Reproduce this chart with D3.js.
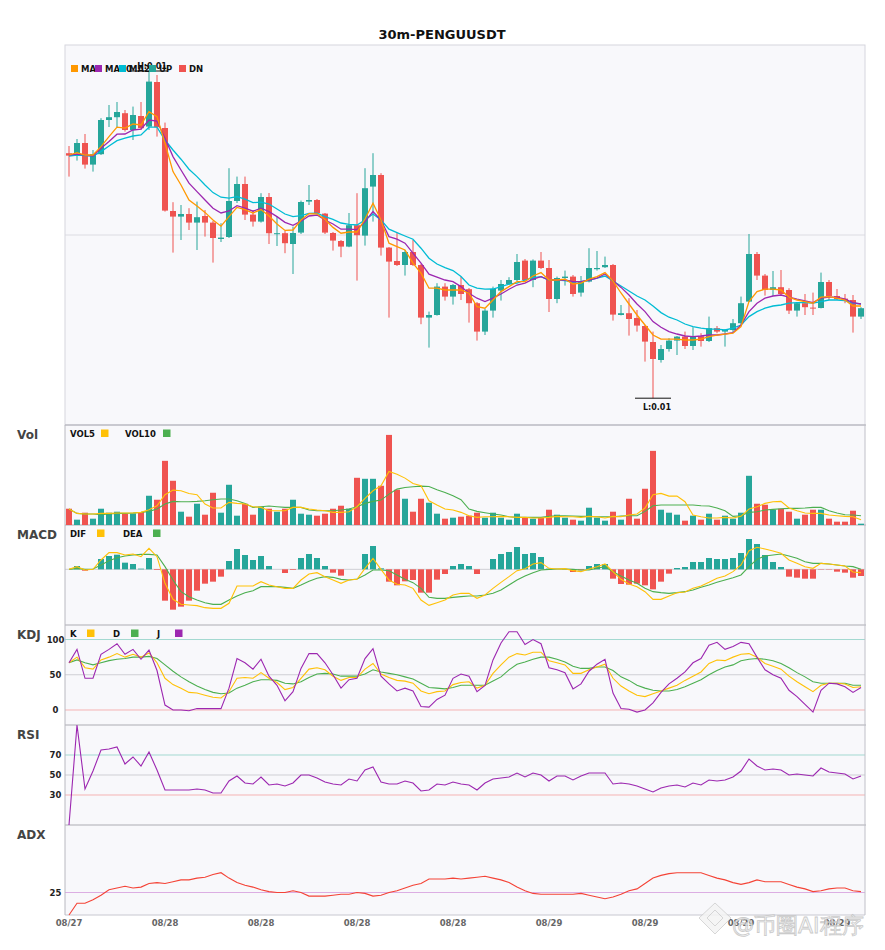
<!DOCTYPE html>
<html>
<head>
<meta charset="utf-8">
<script src="https://cdn.jsdelivr.net/npm/d3@7/dist/d3.min.js"></script>
<style>
body{margin:0;background:#fff}
svg text{font-family:"DejaVu Sans",sans-serif}
</style>
</head>
<body>
<div class="chart"></div>
<script>
// x axis
var dateTicks = [0,12,24,36,48,60,72,84,96]
var dateLabels = ["08/27","08/28","08/28","08/28","08/28","08/29","08/29","08/29","08/29"]

// 30m candles
var open = [0.011409,0.011409,0.011460,0.011352,0.011404,0.011575,0.011589,0.011609,0.011525,0.011595,
0.011542,0.011765,0.011535,0.011120,0.011092,0.011105,0.011062,0.011095,0.011062,0.010980,
0.010990,0.011170,0.011255,0.011102,0.011067,0.011190,0.011004,0.011009,0.010955,0.011012,
0.011167,0.011175,0.011107,0.011010,0.010970,0.010942,0.011049,0.010997,0.011242,0.011300,
0.010937,0.010870,0.010850,0.010915,0.010850,0.010587,0.010600,0.010742,0.010692,0.010750,
0.010729,0.010659,0.010517,0.010622,0.010722,0.010755,0.010775,0.010872,0.010775,0.010872,
0.010835,0.010680,0.010785,0.010792,0.010712,0.010767,0.010829,0.010839,0.010850,0.010600,
0.010609,0.010585,0.010545,0.010465,0.010375,0.010430,0.010472,0.010492,0.010445,0.010494,
0.010470,0.010534,0.010517,0.010525,0.010559,0.010667,0.010905,0.010797,0.010725,0.010739,
0.010725,0.010622,0.010659,0.010637,0.010635,0.010765,0.010695,0.010682,0.010675,0.010592]
var high = [0.011445,0.011480,0.011505,0.011425,0.011584,0.011650,0.011665,0.011625,0.011642,0.011665,
0.011820,0.011800,0.011562,0.011164,0.011150,0.011134,0.011167,0.011125,0.011070,0.011059,
0.011334,0.011292,0.011292,0.011125,0.011209,0.011210,0.011092,0.011020,0.011042,0.011172,
0.011250,0.011180,0.011110,0.011015,0.010975,0.011110,0.011209,0.011334,0.011409,0.011309,
0.010940,0.011012,0.010925,0.010975,0.010855,0.010617,0.010759,0.010759,0.010755,0.010792,
0.010735,0.010665,0.010630,0.010742,0.010775,0.010789,0.010905,0.010880,0.010878,0.010915,
0.010875,0.010792,0.010822,0.010800,0.010795,0.010934,0.010920,0.010892,0.010855,0.010650,
0.010684,0.010625,0.010550,0.010517,0.010450,0.010484,0.010495,0.010517,0.010539,0.010509,
0.010592,0.010545,0.010530,0.010580,0.010692,0.011005,0.010915,0.010805,0.010820,0.010825,
0.010734,0.010665,0.010705,0.010712,0.010812,0.010775,0.010730,0.010705,0.010700,0.010639]
var low = [0.011292,0.011372,0.011332,0.011317,0.011400,0.011540,0.011540,0.011517,0.011475,0.011525,
0.011525,0.011492,0.011117,0.010912,0.010975,0.011025,0.010925,0.010992,0.010862,0.010965,
0.010985,0.011160,0.011075,0.011042,0.011062,0.010955,0.010945,0.010909,0.010805,0.011005,
0.011150,0.011105,0.011005,0.010922,0.010889,0.010939,0.010772,0.010947,0.011067,0.010897,
0.010587,0.010845,0.010797,0.010845,0.010554,0.010437,0.010597,0.010672,0.010652,0.010675,
0.010562,0.010472,0.010500,0.010587,0.010672,0.010750,0.010770,0.010770,0.010739,0.010830,
0.010615,0.010659,0.010747,0.010692,0.010692,0.010763,0.010822,0.010835,0.010572,0.010598,
0.010497,0.010517,0.010367,0.010184,0.010362,0.010417,0.010400,0.010430,0.010425,0.010442,
0.010465,0.010509,0.010442,0.010512,0.010555,0.010665,0.010775,0.010697,0.010695,0.010695,
0.010605,0.010592,0.010600,0.010600,0.010633,0.010675,0.010675,0.010659,0.010512,0.010580]
var close = [0.011397,0.011460,0.011352,0.011404,0.011575,0.011589,0.011615,0.011525,0.011600,0.011534,
0.011767,0.011539,0.011122,0.011092,0.011105,0.011062,0.011089,0.011062,0.010985,0.010987,
0.011170,0.011255,0.011102,0.011067,0.011190,0.011009,0.011009,0.010959,0.011010,0.011165,
0.011175,0.011109,0.011012,0.010972,0.010942,0.011049,0.010999,0.011234,0.011300,0.010937,
0.010867,0.010850,0.010915,0.010850,0.010587,0.010600,0.010742,0.010692,0.010750,0.010705,
0.010659,0.010517,0.010622,0.010730,0.010755,0.010775,0.010865,0.010775,0.010872,0.010835,
0.010680,0.010785,0.010792,0.010705,0.010767,0.010835,0.010835,0.010850,0.010602,0.010609,
0.010580,0.010547,0.010467,0.010380,0.010430,0.010472,0.010492,0.010445,0.010492,0.010470,
0.010534,0.010517,0.010525,0.010559,0.010659,0.010905,0.010797,0.010725,0.010739,0.010705,
0.010622,0.010659,0.010639,0.010632,0.010765,0.010695,0.010679,0.010672,0.010592,0.010634]

var ma5 = [0.011400,0.011412,0.011400,0.011400,0.011442,0.011492,0.011539,0.011534,0.011555,0.011550,
0.011617,0.011592,0.011459,0.011317,0.011250,0.011175,0.011145,0.011113,0.011075,0.011044,
0.011092,0.011138,0.011127,0.011110,0.011127,0.011095,0.011055,0.011023,0.011025,0.011075,
0.011107,0.011106,0.011077,0.011038,0.011009,0.011015,0.011015,0.011080,0.011159,0.011075,
0.010959,0.010942,0.010925,0.010859,0.010809,0.010734,0.010734,0.010725,0.010725,0.010725,
0.010709,0.010642,0.010634,0.010675,0.010717,0.010742,0.010767,0.010767,0.010795,0.010812,
0.010775,0.010775,0.010779,0.010755,0.010759,0.010779,0.010792,0.010812,0.010770,0.010710,
0.010655,0.010600,0.010550,0.010500,0.010479,0.010479,0.010479,0.010475,0.010475,0.010479,
0.010492,0.010499,0.010504,0.010509,0.010542,0.010667,0.010717,0.010729,0.010729,0.010725,
0.010689,0.010675,0.010667,0.010659,0.010689,0.010692,0.010684,0.010675,0.010645,0.010645]
var ma10 = [0.011400,0.011404,0.011400,0.011395,0.011434,0.011467,0.011504,0.011505,0.011525,0.011529,
0.011575,0.011570,0.011484,0.011392,0.011325,0.011259,0.011217,0.011175,0.011134,0.011110,
0.011120,0.011147,0.011134,0.011119,0.011134,0.011117,0.011092,0.011063,0.011048,0.011069,
0.011095,0.011100,0.011075,0.011055,0.011029,0.011029,0.011027,0.011067,0.011117,0.011075,
0.010992,0.010979,0.010959,0.010909,0.010859,0.010804,0.010789,0.010775,0.010767,0.010742,
0.010709,0.010684,0.010667,0.010684,0.010705,0.010729,0.010750,0.010759,0.010779,0.010792,
0.010775,0.010775,0.010775,0.010767,0.010767,0.010775,0.010784,0.010805,0.010771,0.010738,
0.010700,0.010655,0.010617,0.010567,0.010539,0.010517,0.010505,0.010495,0.010492,0.010495,
0.010500,0.010500,0.010505,0.010512,0.010550,0.010617,0.010659,0.010684,0.010695,0.010700,
0.010689,0.010679,0.010670,0.010662,0.010684,0.010689,0.010689,0.010679,0.010662,0.010655]
var ma20 = [0.011395,0.011400,0.011397,0.011395,0.011417,0.011445,0.011472,0.011484,0.011495,0.011500,
0.011539,0.011539,0.011475,0.011425,0.011379,0.011329,0.011292,0.011250,0.011212,0.011189,
0.011184,0.011192,0.011179,0.011162,0.011164,0.011155,0.011130,0.011105,0.011092,0.011097,
0.011108,0.011109,0.011092,0.011078,0.011060,0.011053,0.011050,0.011075,0.011105,0.011075,
0.011029,0.011012,0.010995,0.010979,0.010934,0.010884,0.010855,0.010837,0.010822,0.010792,
0.010750,0.010734,0.010729,0.010730,0.010742,0.010754,0.010759,0.010775,0.010787,0.010792,
0.010775,0.010775,0.010772,0.010765,0.010767,0.010775,0.010784,0.010795,0.010770,0.010745,
0.010720,0.010695,0.010675,0.010645,0.010612,0.010589,0.010575,0.010555,0.010542,0.010534,
0.010529,0.010529,0.010525,0.010534,0.010550,0.010592,0.010617,0.010634,0.010645,0.010650,
0.010659,0.010662,0.010662,0.010659,0.010667,0.010675,0.010675,0.010672,0.010659,0.010655]

// volume (k)
var volume = [49,16,37,19,49,37,40,34,35,39, 88,76,193,133,40,25,64,31,97,37,
121,28,64,31,55,49,40,49,76,34, 31,28,34,49,58,49,142,139,139,118,
271,106,79,40,79,67,34,19,22,25, 28,37,22,37,22,16,34,22,19,22,
46,31,22,16,13,52,22,13,40,16, 79,19,109,223,46,37,31,13,28,16,
34,16,28,19,37,148,64,61,46,49, 40,19,31,46,46,19,10,10,43,4]
var vol5 = [48,35,33,33,35,35,36,36,36,38, 46,58,91,105,103,95,91,63,51,51,
68,65,63,55,53,43,43,43,53,53, 48,45,43,38,38,40,55,80,103,118,
161,153,141,125,118,73,60,48,45,38, 28,23,25,25,26,25,23,23,21,21,
23,26,25,25,23,26,25,21,26,25, 30,33,51,91,95,87,87,70,30,25,
21,21,23,21,26,48,55,65,70,71, 51,43,36,35,35,30,28,26,25,16]
var vol10 = [48,35,33,33,31,33,35,35,36,38, 41,48,63,71,70,70,71,73,76,78,
78,73,65,53,55,57,55,53,53,53, 45,43,43,43,45,48,55,65,71,75,
93,108,113,115,117,116,106,98,88,76, 48,41,37,33,30,25,23,23,23,23,
26,28,28,27,26,26,25,25,25,27, 28,28,41,58,60,60,60,60,60,58,
57,51,43,26,28,38,40,45,47,49, 50,50,51,53,53,43,36,31,30,28]

// MACD (1e-6)
var dif = [0,8,-2,0,28,50,50,43,46,38, 63,38,-42,-90,-105,-107,-109,-115,-117,-117,
-102,-50,-50,-50,-37,-47,-52,-57,-57,-32, -14,-10,-22,-32,-42,-32,-30,3,33,0,
-32,-45,-47,-57,-92,-108,-100,-92,-77,-72, -72,-87,-77,-57,-39,-22,-4,2,16,20,
3,1,2,-4,-7,1,8,16,-7,-30, -44,-52,-67,-90,-90,-80,-70,-68,-57,-50,
-39,-27,-20,-7,13,56,66,61,55,48, 28,18,8,3,18,16,13,10,-8,-10]
var dea = [0,3,0,1,13,26,35,40,43,45, 45,43,8,-32,-67,-82,-92,-100,-105,-105,
-92,-80,-70,-64,-52,-52,-52,-54,-57,-47, -36,-27,-22,-24,-30,-32,-29,-17,-2,-2,
-4,-17,-30,-40,-57,-84,-87,-87,-84,-82, -80,-80,-77,-72,-62,-47,-32,-20,-10,-2,
0,1,1,0,-2,-2,3,8,-7,-20, -32,-42,-57,-67,-70,-72,-70,-67,-62,-54,
-47,-39,-32,-25,-17,8,30,40,43,46, 40,33,23,18,18,16,13,10,8,0]
var macdBar = [0,10,-4,0,31,40,44,20,16,2, 34,-2,-94,-121,-112,-94,-64,-43,-37,-22,
25,61,43,28,40,10,0,-11,-2,34, 46,34,10,-10,-19,0,0,46,70,3,
-37,-48,-36,-32,-70,-70,-31,-14,10,16, 10,-14,0,31,46,52,67,46,49,37,
2,0,1,-8,-3,10,16,16,-28,-44, -46,-43,-48,-60,-37,-13,4,7,22,22,
34,31,31,34,49,91,76,43,22,7, -22,-25,-28,-28,-1,-1,-7,-10,-25,-20]

// KDJ
var kLine = [67,75,60,58,71,75,80,75,79,75, 81,67,45,36,31,25,24,21,18,17,
26,45,46,45,53,45,39,29,32,45, 58,60,57,48,42,46,46,58,66,51,
46,42,41,38,27,23,26,27,36,39, 40,31,35,52,64,75,80,78,82,82,
70,67,64,52,52,57,61,65,45,34, 27,21,19,23,27,31,35,42,48,54,
66,71,70,75,79,80,75,66,62,58, 48,40,33,26,35,38,38,37,32,33]
var dLine = [67,71,67,64,67,70,72,73,75,75, 76,73,64,55,47,40,34,29,25,23,
24,31,35,40,43,43,42,38,37,40, 46,51,52,51,48,48,48,51,57,54,
52,50,47,44,38,32,31,30,32,35, 35,35,35,41,47,57,65,68,72,75,
75,72,68,62,59,59,61,61,56,47, 42,35,31,28,27,27,29,33,38,43,
50,56,61,64,70,72,73,72,70,66, 60,53,47,40,38,38,38,38,35,35]
var jLine = [67,86,45,45,79,86,94,79,86,72, 85,56,7,0,0,-1,2,2,2,2,
31,73,67,58,72,48,35,13,26,59, 80,80,67,50,31,43,45,73,87,48,
37,27,31,27,5,4,15,21,45,51, 48,26,35,71,95,111,111,93,100,94,
60,57,53,30,37,55,65,72,24,2, 1,-3,0,10,25,37,45,54,67,73,
92,96,86,90,96,94,75,57,50,45, 28,19,8,-3,28,38,37,33,25,32]

// RSI
var rsi = [0,100,36,54,75,76,78,61,68,59, 73,55,35,35,35,35,36,35,32,32,
44,49,42,41,48,40,41,39,42,50, 50,47,43,41,40,46,44,55,58,43,
41,41,44,42,34,35,41,40,43,41, 40,35,42,46,47,48,52,48,52,50,
44,49,49,45,49,52,52,52,41,42, 41,39,36,33,37,39,40,38,42,40,
45,44,45,48,54,66,59,55,56,55, 50,51,50,49,57,53,52,51,46,49]

// ADX
var adx = [0,13,13,17,22,28,30,32,30,31, 35,36,35,37,39,39,41,42,45,47,
41,36,33,31,28,26,25,25,27,25, 21,21,21,22,23,23,25,24,21,22,
25,27,30,33,35,40,40,40,41,40, 41,42,43,41,39,36,31,27,24,23,
23,23,23,23,24,22,20,18,20,23, 27,29,35,41,44,46,47,47,47,47,
44,41,39,36,34,36,39,37,37,37, 34,31,29,26,27,29,30,30,27,26]

function drawChart(){
	var width = 885, height = 950
	var left = 65, right = 865
	var UP = "#26a69a", DN = "#ef5350"
	var svg = d3.select(".chart").append("svg").attr("width",width).attr("height",height)

	var panels = [[45,425],[425,525],[525,625],[625,725],[725,825],[825,915]]
	svg.selectAll("rect.bg").data(panels).enter().append("rect")
	.attr("class","bg")
	.attr("x",left).attr("y",function(d){return d[0]})
	.attr("width",right-left).attr("height",function(d){return d[1]-d[0]})
	.attr("fill","#f8f8fb")

	var x = d3.scaleBand().domain(d3.range(close.length)).range([left,right]).paddingInner(0.25).paddingOuter(0.125)
	var bw = x.bandwidth()
	function cx(i){return x(i)+bw/2}

	var y = d3.scaleLinear().domain([0.01005,0.01195]).range([425,45])
	var volY = d3.scaleLinear().domain([0,d3.max(volume)*1.11]).range([525,425])
	var macdY = d3.scaleLinear().domain([-167,133]).range([625,525])
	var kdjY = d3.scaleLinear().domain([-21.3,120.6]).range([725,625])
	var rsiY = d3.scaleLinear().domain([0,100]).range([825,725])
	var adxY = d3.scaleLinear().domain([0,100]).range([915,825])

	function hline(sc,v,color){
		svg.append("line").attr("x1",left).attr("x2",right)
		.attr("y1",sc(v)).attr("y2",sc(v))
		.attr("stroke",color).attr("stroke-width",1)
	}
	// guide lines
	hline(y,0.011,"#dcdce2")
	hline(macdY,0,"#cfcfd4")
	hline(kdjY,100,"#a3d9d1"); hline(kdjY,50,"#cfcfd4"); hline(kdjY,0,"#f5b3b3")
	hline(rsiY,70,"#a3d9d1"); hline(rsiY,50,"#cfcfd4"); hline(rsiY,30,"#f5b3b3")
	hline(adxY,25,"#dcaee3")

	// borders
	svg.append("rect").attr("x",left).attr("y",45).attr("width",right-left).attr("height",380)
	.attr("fill","none").attr("stroke","#d6d6de")
	;[425,525,625,725,825].forEach(function(v){
		svg.append("line").attr("x1",left).attr("x2",right+1).attr("y1",v).attr("y2",v)
		.attr("stroke","#ababb3").attr("stroke-width",1.2)
	})
	svg.append("line").attr("x1",left).attr("x2",right).attr("y1",915).attr("y2",915).attr("stroke","#c8c8d0")
	svg.append("line").attr("x1",left).attr("x2",left).attr("y1",425).attr("y2",915).attr("stroke","#b8b8c0")
	svg.append("line").attr("x1",right).attr("x2",right).attr("y1",425).attr("y2",915).attr("stroke","#c0c0c8")

	function isUp(i){return close[i] >= open[i]}

	// candles
	var candleG = svg.append("g").attr("class","candles")
	candleG.selectAll("line").data(close).enter().append("line")
	.attr("x1",function(d,i){return cx(i)}).attr("x2",function(d,i){return cx(i)})
	.attr("y1",function(d,i){return y(high[i])}).attr("y2",function(d,i){return y(low[i])})
	.attr("stroke",function(d,i){return isUp(i)?UP:DN}).attr("stroke-width",1)
	candleG.selectAll("rect").data(close).enter().append("rect")
	.attr("x",function(d,i){return x(i)})
	.attr("width",bw)
	.attr("y",function(d,i){return y(Math.max(open[i],close[i]))})
	.attr("height",function(d,i){return Math.max(1,Math.abs(y(open[i])-y(close[i])))})
	.attr("fill",function(d,i){return isUp(i)?UP:DN})

	function drawLine(data,sc,color,w){
		var line = d3.line().x(function(d,i){return cx(i)}).y(function(d){return sc(d)})
		svg.append("path").datum(data).attr("d",line)
		.attr("fill","none").attr("stroke",color).attr("stroke-width",w)
	}
	drawLine(ma20,y,"#00bcd4",1.3)
	drawLine(ma10,y,"#9c27b0",1.3)
	drawLine(ma5,y,"#ff9800",1.3)

	// high / low markers
	var hi = d3.maxIndex(high), lo = d3.minIndex(low)
	var fmt = d3.format(".2f")
	svg.append("line").attr("x1",cx(hi)-18).attr("x2",cx(hi)+18).attr("y1",y(high[hi])).attr("y2",y(high[hi])).attr("stroke","#111")
	svg.append("text").attr("x",cx(hi)+3).attr("y",y(high[hi])-2.5).attr("text-anchor","middle")
	.attr("font-size",8).attr("font-weight","bold").attr("fill","#111").text("H:"+fmt(high[hi]))
	svg.append("line").attr("x1",cx(lo)-18).attr("x2",cx(lo)+18).attr("y1",y(low[lo])).attr("y2",y(low[lo])).attr("stroke","#111")
	svg.append("text").attr("x",cx(lo)+4).attr("y",y(low[lo])+11.5).attr("text-anchor","middle")
	.attr("font-size",8).attr("font-weight","bold").attr("fill","#111").text("L:"+fmt(low[lo]))

	// main legend (items overlap like the original)
	var mainLegend = [["MA5","#ff9800",71],["MA10","#9c27b0",95],["MA20","#00bcd4",119],["UP",UP,149],["DN",DN,179]]
	mainLegend.forEach(function(d){
		svg.append("rect").attr("x",d[2]).attr("y",65).attr("width",7).attr("height",7).attr("fill",d[1])
		svg.append("text").attr("x",d[2]+10).attr("y",72.3).attr("font-size",8.5).attr("font-weight","bold").attr("fill","#111").text(d[0])
	})

	// volume
	svg.append("g").selectAll("rect").data(volume).enter().append("rect")
	.attr("x",function(d,i){return x(i)}).attr("width",bw)
	.attr("y",function(d){return volY(d)}).attr("height",function(d){return volY(0)-volY(d)})
	.attr("fill",function(d,i){return isUp(i)?UP:DN})
	drawLine(vol10,volY,"#4caf50",1.1)
	drawLine(vol5,volY,"#ffc107",1.1)

	// macd
	svg.append("g").selectAll("rect").data(macdBar).enter().append("rect")
	.attr("x",function(d,i){return x(i)}).attr("width",bw)
	.attr("y",function(d){return macdY(Math.max(0,d))}).attr("height",function(d){return Math.abs(macdY(d)-macdY(0))})
	.attr("fill",function(d){return d>=0?UP:DN})
	drawLine(dea,macdY,"#4caf50",1.1)
	drawLine(dif,macdY,"#ffc107",1.1)

	// kdj
	drawLine(dLine,kdjY,"#4caf50",1.1)
	drawLine(kLine,kdjY,"#ffc107",1.1)
	drawLine(jLine,kdjY,"#9c27b0",1.1)

	// rsi, adx
	drawLine(rsi,rsiY,"#9c27b0",1.1)
	drawLine(adx,adxY,"#f44336",1.1)

	// panel legends
	var subLegends = [
		[437,[["VOL5","#ffc107",70,101],["VOL10","#4caf50",125,163]]],
		[537,[["DIF","#ffc107",70,97],["DEA","#4caf50",123,153]]],
		[637,[["K","#ffc107",70,87],["D","#4caf50",113,131],["J","#9c27b0",157,175]]]
	]
	subLegends.forEach(function(row){
		row[1].forEach(function(d){
			svg.append("text").attr("x",d[2]).attr("y",row[0]).attr("font-size",8.5).attr("font-weight","bold").attr("fill","#111").text(d[0])
			svg.append("rect").attr("x",d[3]).attr("y",row[0]-7.5).attr("width",7.5).attr("height",7.5).attr("fill",d[1])
		})
	})

	// panel names
	var names = [["Vol",439],["MACD",539],["KDJ",639],["RSI",739],["ADX",839]]
	svg.selectAll("text.pname").data(names).enter().append("text")
	.attr("class","pname").attr("x",17).attr("y",function(d){return d[1]})
	.attr("font-size",12).attr("font-weight","bold").attr("fill","#444")
	.text(function(d){return d[0]})

	// value labels
	function yLabels(sc,vals){
		vals.forEach(function(v){
			svg.append("text").attr("x",55.5).attr("y",sc(v)+3).attr("text-anchor","middle")
			.attr("font-size",8.5).attr("font-weight","bold").attr("fill","#222").text(v)
		})
	}
	yLabels(kdjY,[100,50,0])
	yLabels(rsiY,[70,50,30])
	yLabels(adxY,[25])

	// title
	svg.append("text").attr("x",442).attr("y",39).attr("text-anchor","middle")
	.attr("font-size",13).attr("font-weight","bold").attr("fill","#111").text("30m-PENGUUSDT")

	// time axis
	var xAxis = d3.axisBottom(x).tickValues(dateTicks)
	.tickFormat(function(d){return dateLabels[dateTicks.indexOf(d)]})
	.tickSize(0).tickPadding(4.5)
	var axisG = svg.append("g").attr("transform","translate(0,915)").call(xAxis)
	axisG.select(".domain").remove()
	axisG.selectAll("text").attr("font-size",8.5).attr("font-weight","bold").attr("fill","#666")
	.attr("font-family","DejaVu Sans")

	// watermark
	var wm = svg.append("g").attr("opacity",0.85)
	wm.append("path").attr("d","M715,903 L731,918 L715,934 L699,918 Z M715,910 L723,918 L715,926 L707,918 Z")
	.attr("fill","#f4f4f4").attr("stroke","#c6c6c6").attr("stroke-width",0.8)
	wm.append("text").attr("x",732).attr("y",933).attr("font-family","Noto Sans CJK SC")
	.attr("font-size",22).attr("fill","#f4f4f4").attr("stroke","#c2c2c2").attr("stroke-width",0.8)
	.text("@币圈AI程序")
}
drawChart()
</script>
</body>
</html>
